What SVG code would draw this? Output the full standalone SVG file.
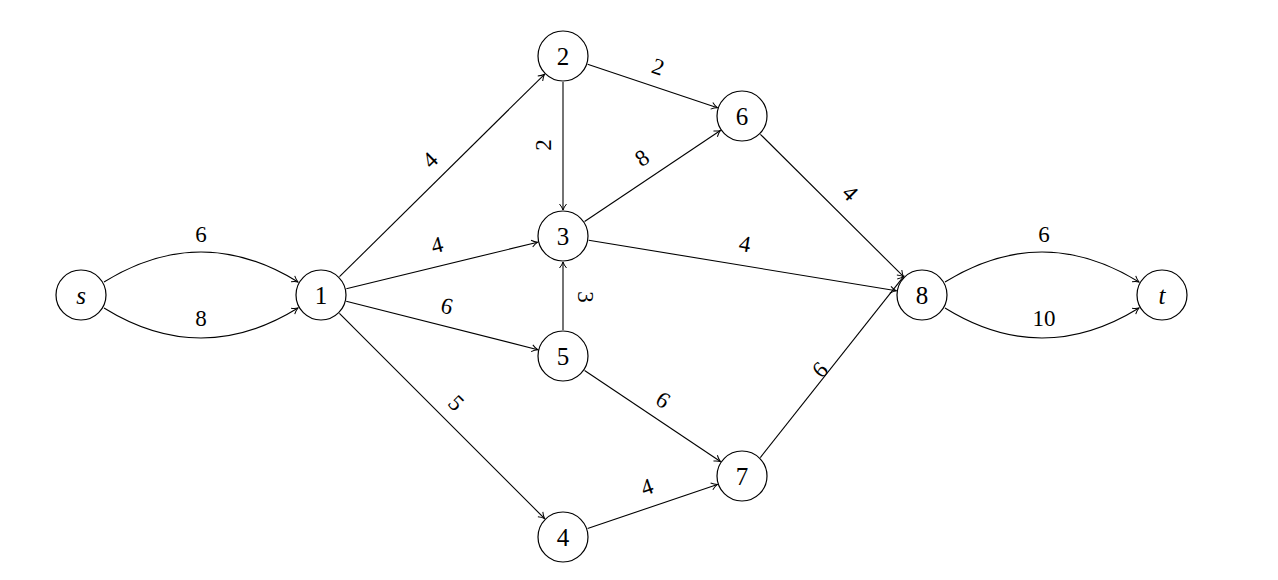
<svg xmlns="http://www.w3.org/2000/svg" width="1278" height="580" viewBox="0 0 1278 580">
<style>
.n circle{fill:#fff;stroke:#000;stroke-width:1.2}
.n text{font-family:"Liberation Serif",serif;font-size:25px;text-anchor:middle;dominant-baseline:central}
.e path,.e line{fill:none;stroke:#000;stroke-width:1.1;marker-end:url(#a)}
.l{font-family:"Liberation Serif",serif;font-size:23px;text-anchor:middle;dominant-baseline:central}
</style>
<defs><marker id="a" markerWidth="10" markerHeight="10" refX="8" refY="5" orient="auto" markerUnits="userSpaceOnUse"><path d="M2,1.5 Q5,4 8,5 Q5,6 2,8.5" fill="none" stroke="#000" stroke-width="1"/></marker></defs>
<rect width="1278" height="580" fill="#fff"/>
<g id="connectors" class="e">
<path d="M104,282 Q201,222 298,282"/>
<path d="M104,308 Q201,368 298,308"/>
<path d="M945,282 Q1042,222 1139,282"/>
<path d="M945,308 Q1042,368 1139,308"/>
<line x1="339.5" y1="276.7" x2="544.5" y2="74.3"/>
<line x1="346.3" y1="288.8" x2="537.7" y2="242.2"/>
<line x1="346.2" y1="301.3" x2="537.8" y2="349.7"/>
<line x1="339.4" y1="313.4" x2="544.6" y2="518.6"/>
<line x1="587.6" y1="64.3" x2="717.4" y2="107.7"/>
<line x1="563" y1="82" x2="563" y2="210"/>
<line x1="584.6" y1="221.5" x2="720.4" y2="130.5"/>
<line x1="588.7" y1="240.2" x2="896.3" y2="290.8"/>
<line x1="563" y1="330" x2="563" y2="262"/>
<line x1="584.6" y1="370.5" x2="720.4" y2="461.5"/>
<line x1="587.6" y1="528.6" x2="717.4" y2="484.4"/>
<line x1="760.4" y1="134.3" x2="903.6" y2="276.7"/>
<line x1="760.3" y1="457.6" x2="903.7" y2="276.4"/>
</g>
<g id="labels">
<text class="l" x="201" y="234">6</text>
<text class="l" x="201" y="318">8</text>
<text class="l" x="1044" y="234">6</text>
<text class="l" x="1044" y="318">10</text>
<text class="l" transform="translate(430,160) rotate(-44.6)">4</text>
<text class="l" transform="translate(437,245) rotate(-13.7)">4</text>
<text class="l" transform="translate(447,306) rotate(14)">6</text>
<text class="l" transform="translate(456,403) rotate(45)">5</text>
<text class="l" transform="translate(658,67) rotate(18.5)">2</text>
<text class="l" transform="translate(543,145) rotate(-90)">2</text>
<text class="l" transform="translate(642,158) rotate(-34)">8</text>
<text class="l" transform="translate(745,244) rotate(9.3)">4</text>
<text class="l" transform="translate(585,297) rotate(90)">3</text>
<text class="l" transform="translate(663,400) rotate(34)">6</text>
<text class="l" transform="translate(647,487) rotate(-19)">4</text>
<text class="l" transform="translate(850,193) rotate(45)">4</text>
<text class="l" transform="translate(820,370) rotate(-45)">6</text>
</g>
<g id="s" class="n"><circle cx="81" cy="295" r="25"/><text x="81" y="295" font-style="italic">s</text></g>
<g id="n1" class="n"><circle cx="321" cy="295" r="25"/><text x="321" y="295">1</text></g>
<g id="n2" class="n"><circle cx="563" cy="56" r="25"/><text x="563" y="56">2</text></g>
<g id="n3" class="n"><circle cx="563" cy="236" r="25"/><text x="563" y="236">3</text></g>
<g id="n5" class="n"><circle cx="563" cy="356" r="25"/><text x="563" y="356">5</text></g>
<g id="n4" class="n"><circle cx="563" cy="537" r="25"/><text x="563" y="537">4</text></g>
<g id="n6" class="n"><circle cx="742" cy="116" r="25"/><text x="742" y="116">6</text></g>
<g id="n7" class="n"><circle cx="742" cy="476" r="25"/><text x="742" y="476">7</text></g>
<g id="n8" class="n"><circle cx="922" cy="295" r="25"/><text x="922" y="295">8</text></g>
<g id="t" class="n"><circle cx="1162" cy="295" r="25"/><text x="1162" y="295" font-style="italic">t</text></g>
</svg>
